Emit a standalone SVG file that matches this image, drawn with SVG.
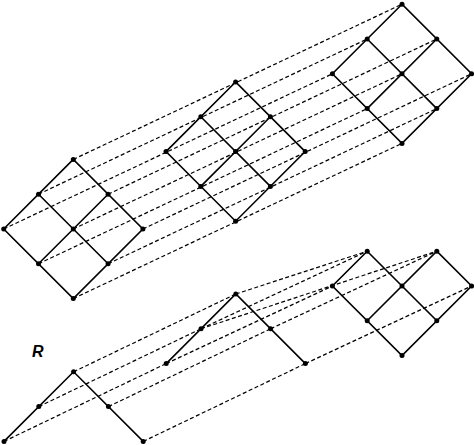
<svg xmlns="http://www.w3.org/2000/svg" width="474" height="445" viewBox="0 0 474 445">
<style>
.d{stroke:#000;stroke-width:1.2;stroke-dasharray:4 2.5;fill:none}
.e{stroke:#000;stroke-width:1.6;fill:none}
.n{fill:#000}
.lbl{font-family:"Liberation Sans",Arial,sans-serif;font-weight:bold;font-style:italic;font-size:16px;fill:#000}
</style>
<rect width="474" height="445" fill="#fff"/>
<g id="connectors">
<line class="d" x1="73.3" y1="159.4" x2="402" y2="4.2"/>
<line class="d" x1="38.5" y1="194.2" x2="367.2" y2="39"/>
<line class="d" x1="108.1" y1="194.2" x2="436.8" y2="39"/>
<line class="d" x1="3.7" y1="229" x2="332.4" y2="73.8"/>
<line class="d" x1="73.3" y1="229" x2="402" y2="73.8"/>
<line class="d" x1="142.9" y1="229" x2="471.6" y2="73.8"/>
<line class="d" x1="38.5" y1="263.8" x2="367.2" y2="108.6"/>
<line class="d" x1="108.1" y1="263.8" x2="436.8" y2="108.6"/>
<line class="d" x1="73.3" y1="298.6" x2="402" y2="143.4"/>
<line class="d" x1="73.6" y1="371.8" x2="235.8" y2="294"/>
<line class="d" x1="38.8" y1="406.6" x2="201" y2="328.8"/>
<line class="d" x1="108.4" y1="406.6" x2="270.6" y2="328.8"/>
<line class="d" x1="4" y1="441.4" x2="166.2" y2="363.6"/>
<line class="d" x1="143.2" y1="441.4" x2="305.4" y2="363.6"/>
<line class="d" x1="235.8" y1="294" x2="367.2" y2="251.2"/>
<line class="d" x1="201" y1="328.8" x2="367.2" y2="251.2"/>
<line class="d" x1="201" y1="328.8" x2="436.8" y2="251.2"/>
<line class="d" x1="270.6" y1="328.8" x2="436.8" y2="251.2"/>
<line class="d" x1="166.2" y1="363.6" x2="332.4" y2="286"/>
<line class="d" x1="305.4" y1="363.6" x2="471.6" y2="286"/>
</g>
<g id="lattice-top-left">
<path class="e" d="M73.3 159.4L3.7 229L73.3 298.6L142.9 229Z M38.5 194.2L108.1 263.8 M108.1 194.2L38.5 263.8"/>
<circle class="n" cx="73.3" cy="159.4" r="2.5"/><circle class="n" cx="38.5" cy="194.2" r="2.5"/><circle class="n" cx="108.1" cy="194.2" r="2.5"/>
<circle class="n" cx="3.7" cy="229" r="2.5"/><circle class="n" cx="73.3" cy="229" r="2.5"/><circle class="n" cx="142.9" cy="229" r="2.5"/>
<circle class="n" cx="38.5" cy="263.8" r="2.5"/><circle class="n" cx="108.1" cy="263.8" r="2.5"/><circle class="n" cx="73.3" cy="298.6" r="2.5"/>
</g>
<g id="lattice-top-middle">
<path class="e" d="M235.6 82L166 151.6L235.6 221.2L305.2 151.6Z M200.8 116.8L270.4 186.4 M270.4 116.8L200.8 186.4"/>
<circle class="n" cx="235.6" cy="82" r="2.5"/><circle class="n" cx="200.8" cy="116.8" r="2.5"/><circle class="n" cx="270.4" cy="116.8" r="2.5"/>
<circle class="n" cx="166" cy="151.6" r="2.5"/><circle class="n" cx="235.6" cy="151.6" r="2.5"/><circle class="n" cx="305.2" cy="151.6" r="2.5"/>
<circle class="n" cx="200.8" cy="186.4" r="2.5"/><circle class="n" cx="270.4" cy="186.4" r="2.5"/><circle class="n" cx="235.6" cy="221.2" r="2.5"/>
</g>
<g id="lattice-top-right">
<path class="e" d="M402 4.2L332.4 73.8L402 143.4L471.6 73.8Z M367.2 39L436.8 108.6 M436.8 39L367.2 108.6"/>
<circle class="n" cx="402" cy="4.2" r="2.5"/><circle class="n" cx="367.2" cy="39" r="2.5"/><circle class="n" cx="436.8" cy="39" r="2.5"/>
<circle class="n" cx="332.4" cy="73.8" r="2.5"/><circle class="n" cx="402" cy="73.8" r="2.5"/><circle class="n" cx="471.6" cy="73.8" r="2.5"/>
<circle class="n" cx="367.2" cy="108.6" r="2.5"/><circle class="n" cx="436.8" cy="108.6" r="2.5"/><circle class="n" cx="402" cy="143.4" r="2.5"/>
</g>
<g id="chain-bottom-left">
<path class="e" d="M4 441.4L73.6 371.8L143.2 441.4"/>
<circle class="n" cx="73.6" cy="371.8" r="2.5"/><circle class="n" cx="38.8" cy="406.6" r="2.5"/><circle class="n" cx="108.4" cy="406.6" r="2.5"/>
<circle class="n" cx="4" cy="441.4" r="2.5"/><circle class="n" cx="143.2" cy="441.4" r="2.5"/>
</g>
<g id="chain-bottom-middle">
<path class="e" d="M166.2 363.6L235.8 294L305.4 363.6"/>
<circle class="n" cx="235.8" cy="294" r="2.5"/><circle class="n" cx="201" cy="328.8" r="2.5"/><circle class="n" cx="270.6" cy="328.8" r="2.5"/>
<circle class="n" cx="166.2" cy="363.6" r="2.5"/><circle class="n" cx="305.4" cy="363.6" r="2.5"/>
</g>
<g id="lattice-bottom-right">
<path class="e" d="M367.2 251.2L332.4 286L402 355.6L471.6 286L436.8 251.2L367.2 320.8 M367.2 251.2L436.8 320.8"/>
<circle class="n" cx="367.2" cy="251.2" r="2.5"/><circle class="n" cx="436.8" cy="251.2" r="2.5"/>
<circle class="n" cx="332.4" cy="286" r="2.5"/><circle class="n" cx="402" cy="286" r="2.5"/><circle class="n" cx="471.6" cy="286" r="2.5"/>
<circle class="n" cx="367.2" cy="320.8" r="2.5"/><circle class="n" cx="436.8" cy="320.8" r="2.5"/><circle class="n" cx="402" cy="355.6" r="2.5"/>
</g>
<g id="label-R"><text class="lbl" x="37.7" y="356.5" text-anchor="middle">R</text></g>
</svg>
